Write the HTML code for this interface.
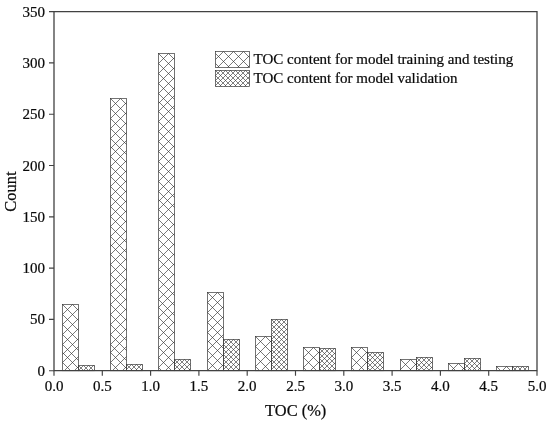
<!DOCTYPE html>
<html lang="en"><head><meta charset="utf-8"><title>TOC histogram</title>
<style>
html,body{margin:0;padding:0;background:#fff;}
body{width:550px;height:422px;overflow:hidden;}
svg{display:block;}
text{font-family:"Liberation Serif","Times New Roman",serif;fill:#0a0a0a;stroke:#0a0a0a;stroke-width:0.22px;}
.tk{font-size:15.0px;}
.lg{font-size:15.0px;}
.ti{font-size:16.4px;}
</style></head><body>
<svg width="550" height="422" viewBox="0 0 550 422">
<rect width="550" height="422" fill="#fff"/>
<g fill="none" stroke="#303030">
<path stroke-width="0.65" d="M62.5 362.5L70.7 370.7M62.5 352.5L78.5 368.5M62.5 344.5L78.5 360.5M62.5 334.5L78.5 350.5M62.5 324.5L78.5 340.5M62.5 314.5L78.5 330.5M62.5 304.5L78.5 320.5M72.5 304.5L78.5 310.5M62.5 314.5L72.5 304.5M62.5 324.5L78.5 308.5M62.5 334.5L78.5 318.5M62.5 344.5L78.5 328.5M62.5 354.5L78.5 338.5M62.5 362.5L78.5 346.5M64.3 370.7L78.5 356.5M74.3 370.7L78.5 366.5M110.5 362.5L118.7 370.7M110.5 352.5L126.5 368.5M110.5 344.5L126.5 360.5M110.5 334.5L126.5 350.5M110.5 324.5L126.5 340.5M110.5 314.5L126.5 330.5M110.5 304.5L126.5 320.5M110.5 294.5L126.5 310.5M110.5 284.5L126.5 300.5M110.5 274.5L126.5 290.5M110.5 264.5L126.5 280.5M110.5 254.5L126.5 270.5M110.5 244.5L126.5 260.5M110.5 236.5L126.5 252.5M110.5 226.5L126.5 242.5M110.5 216.5L126.5 232.5M110.5 206.5L126.5 222.5M110.5 196.5L126.5 212.5M110.5 186.5L126.5 202.5M110.5 176.5L126.5 192.5M110.5 166.5L126.5 182.5M110.5 156.5L126.5 172.5M110.5 146.5L126.5 162.5M110.5 138.5L126.5 154.5M110.5 128.5L126.5 144.5M110.5 118.5L126.5 134.5M110.5 108.5L126.5 124.5M110.5 98.5L126.5 114.5M120.5 98.5L126.5 104.5M110.5 108.5L120.5 98.5M110.5 118.5L126.5 102.5M110.5 128.5L126.5 112.5M110.5 138.5L126.5 122.5M110.5 148.5L126.5 132.5M110.5 156.5L126.5 140.5M110.5 166.5L126.5 150.5M110.5 176.5L126.5 160.5M110.5 186.5L126.5 170.5M110.5 196.5L126.5 180.5M110.5 206.5L126.5 190.5M110.5 216.5L126.5 200.5M110.5 226.5L126.5 210.5M110.5 236.5L126.5 220.5M110.5 246.5L126.5 230.5M110.5 254.5L126.5 238.5M110.5 264.5L126.5 248.5M110.5 274.5L126.5 258.5M110.5 284.5L126.5 268.5M110.5 294.5L126.5 278.5M110.5 304.5L126.5 288.5M110.5 314.5L126.5 298.5M110.5 324.5L126.5 308.5M110.5 334.5L126.5 318.5M110.5 344.5L126.5 328.5M110.5 352.5L126.5 336.5M110.5 362.5L126.5 346.5M112.3 370.7L126.5 356.5M122.3 370.7L126.5 366.5M158.5 367.5L161.7 370.7M158.5 357.5L171.7 370.7M158.5 347.5L174.5 363.5M158.5 337.5L174.5 353.5M158.5 327.5L174.5 343.5M158.5 317.5L174.5 333.5M158.5 307.5L174.5 323.5M158.5 299.5L174.5 315.5M158.5 289.5L174.5 305.5M158.5 279.5L174.5 295.5M158.5 269.5L174.5 285.5M158.5 259.5L174.5 275.5M158.5 249.5L174.5 265.5M158.5 239.5L174.5 255.5M158.5 229.5L174.5 245.5M158.5 219.5L174.5 235.5M158.5 209.5L174.5 225.5M158.5 199.5L174.5 215.5M158.5 191.5L174.5 207.5M158.5 181.5L174.5 197.5M158.5 171.5L174.5 187.5M158.5 161.5L174.5 177.5M158.5 151.5L174.5 167.5M158.5 141.5L174.5 157.5M158.5 131.5L174.5 147.5M158.5 121.5L174.5 137.5M158.5 111.5L174.5 127.5M158.5 101.5L174.5 117.5M158.5 93.5L174.5 109.5M158.5 83.5L174.5 99.5M158.5 73.5L174.5 89.5M158.5 63.5L174.5 79.5M158.5 53.5L174.5 69.5M168.5 53.5L174.5 59.5M158.5 63.5L168.5 53.5M158.5 73.5L174.5 57.5M158.5 83.5L174.5 67.5M158.5 93.5L174.5 77.5M158.5 103.5L174.5 87.5M158.5 111.5L174.5 95.5M158.5 121.5L174.5 105.5M158.5 131.5L174.5 115.5M158.5 141.5L174.5 125.5M158.5 151.5L174.5 135.5M158.5 161.5L174.5 145.5M158.5 171.5L174.5 155.5M158.5 181.5L174.5 165.5M158.5 191.5L174.5 175.5M158.5 201.5L174.5 185.5M158.5 209.5L174.5 193.5M158.5 219.5L174.5 203.5M158.5 229.5L174.5 213.5M158.5 239.5L174.5 223.5M158.5 249.5L174.5 233.5M158.5 259.5L174.5 243.5M158.5 269.5L174.5 253.5M158.5 279.5L174.5 263.5M158.5 289.5L174.5 273.5M158.5 299.5L174.5 283.5M158.5 307.5L174.5 291.5M158.5 317.5L174.5 301.5M158.5 327.5L174.5 311.5M158.5 337.5L174.5 321.5M158.5 347.5L174.5 331.5M158.5 357.5L174.5 341.5M158.5 367.5L174.5 351.5M165.3 370.7L174.5 361.5M207.5 360.5L217.7 370.7M207.5 350.5L223.5 366.5M207.5 340.5L223.5 356.5M207.5 332.5L223.5 348.5M207.5 322.5L223.5 338.5M207.5 312.5L223.5 328.5M207.5 302.5L223.5 318.5M207.5 292.5L223.5 308.5M217.5 292.5L223.5 298.5M207.5 302.5L217.5 292.5M207.5 312.5L223.5 296.5M207.5 322.5L223.5 306.5M207.5 332.5L223.5 316.5M207.5 342.5L223.5 326.5M207.5 350.5L223.5 334.5M207.5 360.5L223.5 344.5M207.5 370.5L223.5 354.5M217.3 370.7L223.5 364.5M255.5 366.5L259.7 370.7M255.5 356.5L269.7 370.7M255.5 346.5L271.5 362.5M255.5 336.5L271.5 352.5M265.5 336.5L271.5 342.5M255.5 346.5L265.5 336.5M255.5 356.5L271.5 340.5M255.5 366.5L271.5 350.5M261.3 370.7L271.5 360.5M303.5 367.5L306.7 370.7M303.5 357.5L316.7 370.7M303.5 347.5L319.5 363.5M313.5 347.5L319.5 353.5M303.5 357.5L313.5 347.5M303.5 367.5L319.5 351.5M310.3 370.7L319.5 361.5M351.5 367.5L354.7 370.7M351.5 357.5L364.7 370.7M351.5 347.5L367.5 363.5M361.5 347.5L367.5 353.5M351.5 357.5L361.5 347.5M351.5 367.5L367.5 351.5M358.3 370.7L367.5 361.5M400.5 369.5L401.7 370.7M400.5 359.5L411.7 370.7M410.5 359.5L416.5 365.5M400.5 369.5L410.5 359.5M409.3 370.7L416.5 363.5M448.5 363.5L455.7 370.7M458.5 363.5L464.5 369.5M451.3 370.7L458.5 363.5M461.3 370.7L464.5 367.5M496.5 366.5L500.7 370.7M506.5 366.5L510.7 370.7M502.3 370.7L506.5 366.5M215.5 63.5L219.5 67.5M215.5 53.5L229.5 67.5M223.5 51.5L239.5 67.5M233.5 51.5L249.5 67.5M243.5 51.5L249.5 57.5M215.5 59.5L223.5 51.5M217.5 67.5L233.5 51.5M227.5 67.5L243.5 51.5M237.5 67.5L249.5 55.5M247.5 67.5L249.5 65.5"/>
<path stroke-width="0.62" d="M78.5 365.5L83.7 370.7M83.5 365.5L88.7 370.7M88.5 365.5L93.7 370.7M93.5 365.5L94.5 366.5M78.5 370.5L83.5 365.5M83.3 370.7L88.5 365.5M88.3 370.7L93.5 365.5M93.3 370.7L94.5 369.5M126.5 369.5L127.7 370.7M126.5 364.5L132.7 370.7M131.5 364.5L137.7 370.7M136.5 364.5L142.5 370.5M141.5 364.5L142.5 365.5M126.5 369.5L131.5 364.5M130.3 370.7L136.5 364.5M135.3 370.7L141.5 364.5M140.3 370.7L142.5 368.5M174.5 369.5L175.7 370.7M174.5 364.5L180.7 370.7M174.5 359.5L185.7 370.7M179.5 359.5L190.5 370.5M184.5 359.5L190.5 365.5M189.5 359.5L190.5 360.5M174.5 364.5L179.5 359.5M174.5 369.5L184.5 359.5M178.3 370.7L189.5 359.5M183.3 370.7L190.5 363.5M188.3 370.7L190.5 368.5M223.5 369.5L224.7 370.7M223.5 364.5L229.7 370.7M223.5 359.5L234.7 370.7M223.5 354.5L239.5 370.5M223.5 349.5L239.5 365.5M223.5 344.5L239.5 360.5M223.5 339.5L239.5 355.5M228.5 339.5L239.5 350.5M233.5 339.5L239.5 345.5M238.5 339.5L239.5 340.5M223.5 344.5L228.5 339.5M223.5 349.5L233.5 339.5M223.5 354.5L238.5 339.5M223.5 359.5L239.5 343.5M223.5 364.5L239.5 348.5M223.5 369.5L239.5 353.5M227.3 370.7L239.5 358.5M232.3 370.7L239.5 363.5M237.3 370.7L239.5 368.5M271.5 369.5L272.7 370.7M271.5 364.5L277.7 370.7M271.5 359.5L282.7 370.7M271.5 354.5L287.5 370.5M271.5 349.5L287.5 365.5M271.5 344.5L287.5 360.5M271.5 339.5L287.5 355.5M271.5 334.5L287.5 350.5M271.5 329.5L287.5 345.5M271.5 324.5L287.5 340.5M271.5 319.5L287.5 335.5M276.5 319.5L287.5 330.5M281.5 319.5L287.5 325.5M286.5 319.5L287.5 320.5M271.5 324.5L276.5 319.5M271.5 329.5L281.5 319.5M271.5 334.5L286.5 319.5M271.5 339.5L287.5 323.5M271.5 344.5L287.5 328.5M271.5 349.5L287.5 333.5M271.5 354.5L287.5 338.5M271.5 359.5L287.5 343.5M271.5 364.5L287.5 348.5M271.5 369.5L287.5 353.5M275.3 370.7L287.5 358.5M280.3 370.7L287.5 363.5M285.3 370.7L287.5 368.5M319.5 368.5L321.7 370.7M319.5 363.5L326.7 370.7M319.5 358.5L331.7 370.7M319.5 353.5L335.5 369.5M319.5 348.5L335.5 364.5M324.5 348.5L335.5 359.5M329.5 348.5L335.5 354.5M334.5 348.5L335.5 349.5M319.5 353.5L324.5 348.5M319.5 358.5L329.5 348.5M319.5 363.5L334.5 348.5M319.5 368.5L335.5 352.5M322.3 370.7L335.5 357.5M327.3 370.7L335.5 362.5M332.3 370.7L335.5 367.5M367.5 367.5L370.7 370.7M367.5 362.5L375.7 370.7M367.5 357.5L380.7 370.7M367.5 352.5L383.5 368.5M372.5 352.5L383.5 363.5M377.5 352.5L383.5 358.5M382.5 352.5L383.5 353.5M367.5 357.5L372.5 352.5M367.5 362.5L377.5 352.5M367.5 367.5L382.5 352.5M369.3 370.7L383.5 356.5M374.3 370.7L383.5 361.5M379.3 370.7L383.5 366.5M416.5 367.5L419.7 370.7M416.5 362.5L424.7 370.7M416.5 357.5L429.7 370.7M421.5 357.5L432.5 368.5M426.5 357.5L432.5 363.5M431.5 357.5L432.5 358.5M416.5 362.5L421.5 357.5M416.5 367.5L426.5 357.5M418.3 370.7L431.5 357.5M423.3 370.7L432.5 361.5M428.3 370.7L432.5 366.5M464.5 368.5L466.7 370.7M464.5 363.5L471.7 370.7M464.5 358.5L476.7 370.7M469.5 358.5L480.5 369.5M474.5 358.5L480.5 364.5M479.5 358.5L480.5 359.5M464.5 363.5L469.5 358.5M464.5 368.5L474.5 358.5M467.3 370.7L479.5 358.5M472.3 370.7L480.5 362.5M477.3 370.7L480.5 367.5M512.5 366.5L516.7 370.7M517.5 366.5L521.7 370.7M522.5 366.5L526.7 370.7M527.5 366.5L528.5 367.5M513.3 370.7L517.5 366.5M518.3 370.7L522.5 366.5M523.3 370.7L527.5 366.5M215.5 85.5L216.5 86.5M215.5 80.5L221.5 86.5M215.5 75.5L226.5 86.5M215.5 70.5L231.5 86.5M220.5 70.5L236.5 86.5M225.5 70.5L241.5 86.5M230.5 70.5L246.5 86.5M235.5 70.5L249.5 84.5M240.5 70.5L249.5 79.5M245.5 70.5L249.5 74.5M215.5 75.5L220.5 70.5M215.5 80.5L225.5 70.5M215.5 85.5L230.5 70.5M219.5 86.5L235.5 70.5M224.5 86.5L240.5 70.5M229.5 86.5L245.5 70.5M234.5 86.5L249.5 71.5M239.5 86.5L249.5 76.5M244.5 86.5L249.5 81.5"/>
</g>
<g fill="none" stroke="#383838" stroke-width="0.7">
<rect x="62.5" y="304.5" width="16" height="66.2"/>
<rect x="78.5" y="365.5" width="16" height="5.2"/>
<rect x="110.5" y="98.5" width="16" height="272.2"/>
<rect x="126.5" y="364.5" width="16" height="6.2"/>
<rect x="158.5" y="53.5" width="16" height="317.2"/>
<rect x="174.5" y="359.5" width="16" height="11.2"/>
<rect x="207.5" y="292.5" width="16" height="78.2"/>
<rect x="223.5" y="339.5" width="16" height="31.2"/>
<rect x="255.5" y="336.5" width="16" height="34.2"/>
<rect x="271.5" y="319.5" width="16" height="51.2"/>
<rect x="303.5" y="347.5" width="16" height="23.2"/>
<rect x="319.5" y="348.5" width="16" height="22.2"/>
<rect x="351.5" y="347.5" width="16" height="23.2"/>
<rect x="367.5" y="352.5" width="16" height="18.2"/>
<rect x="400.5" y="359.5" width="16" height="11.2"/>
<rect x="416.5" y="357.5" width="16" height="13.2"/>
<rect x="448.5" y="363.5" width="16" height="7.2"/>
<rect x="464.5" y="358.5" width="16" height="12.2"/>
<rect x="496.5" y="366.5" width="16" height="4.2"/>
<rect x="512.5" y="366.5" width="16" height="4.2"/>
<rect x="215.5" y="51.5" width="34" height="16"/>
<rect x="215.5" y="70.5" width="34" height="16"/>
</g>
<path d="M54.00 11.65H537.00V370.70H54.00Z" fill="none" stroke="#424242" stroke-width="1.3"/>
<path d="M49.00 370.70H54.00M49.00 319.41H54.00M49.00 268.11H54.00M49.00 216.82H54.00M49.00 165.53H54.00M49.00 114.24H54.00M49.00 62.94H54.00M49.00 11.65H54.00M54.00 370.70V375.70M102.30 370.70V375.70M150.60 370.70V375.70M198.90 370.70V375.70M247.20 370.70V375.70M295.50 370.70V375.70M343.80 370.70V375.70M392.10 370.70V375.70M440.40 370.70V375.70M488.70 370.70V375.70M537.00 370.70V375.70" fill="none" stroke="#424242" stroke-width="1.15"/>
<text class="tk" x="45" y="375.70" text-anchor="end">0</text>
<text class="tk" x="45" y="324.41" text-anchor="end">50</text>
<text class="tk" x="45" y="273.11" text-anchor="end">100</text>
<text class="tk" x="45" y="221.82" text-anchor="end">150</text>
<text class="tk" x="45" y="170.53" text-anchor="end">200</text>
<text class="tk" x="45" y="119.24" text-anchor="end">250</text>
<text class="tk" x="45" y="67.94" text-anchor="end">300</text>
<text class="tk" x="45" y="16.65" text-anchor="end">350</text>
<text class="tk" x="54.00" y="390.9" text-anchor="middle">0.0</text>
<text class="tk" x="102.30" y="390.9" text-anchor="middle">0.5</text>
<text class="tk" x="150.60" y="390.9" text-anchor="middle">1.0</text>
<text class="tk" x="198.90" y="390.9" text-anchor="middle">1.5</text>
<text class="tk" x="247.20" y="390.9" text-anchor="middle">2.0</text>
<text class="tk" x="295.50" y="390.9" text-anchor="middle">2.5</text>
<text class="tk" x="343.80" y="390.9" text-anchor="middle">3.0</text>
<text class="tk" x="392.10" y="390.9" text-anchor="middle">3.5</text>
<text class="tk" x="440.40" y="390.9" text-anchor="middle">4.0</text>
<text class="tk" x="488.70" y="390.9" text-anchor="middle">4.5</text>
<text class="tk" x="537.00" y="390.9" text-anchor="middle">5.0</text>
<text class="ti" x="295.7" y="416.1" text-anchor="middle">TOC (%)</text>
<text class="ti" transform="translate(16.1 191.6) rotate(-90)" text-anchor="middle">Count</text>
<text class="lg" x="253.6" y="64.3">TOC content for model training and testing</text>
<text class="lg" x="253.6" y="82.8">TOC content for model validation</text>
</svg>
</body></html>
